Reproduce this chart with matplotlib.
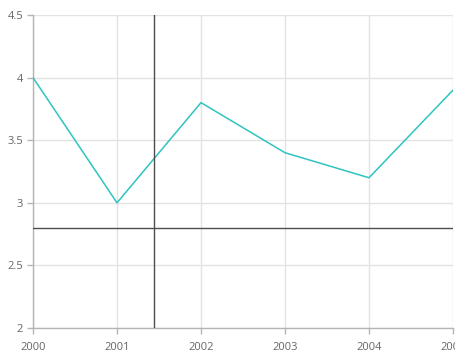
import matplotlib
matplotlib.use("Agg")
import matplotlib.pyplot as plt
from matplotlib.transforms import Bbox

# data
years = [2000, 2001, 2002, 2003, 2004, 2005]
values = [4.0, 3.0, 3.8, 3.4, 3.2, 3.9]
cross_x = 2001.44
cross_y = 2.8

plt.rcParams['font.family'] = ['Open Sans', 'DejaVu Sans']

fig = plt.figure(figsize=(4.74, 3.62), dpi=100)
ax = fig.add_axes([33 / 474, 1 - 328 / 362, 420 / 474, 313 / 362])

ax.plot(years, values, color='#2ec4c0', linewidth=1.1, zorder=3)

# crosshair
ax.axvline(cross_x, color='#4d4d4d', linewidth=1, zorder=4)
ax.axhline(cross_y, color='#4d4d4d', linewidth=1, zorder=4)

ax.set_xlim(2000, 2005)
ax.set_ylim(2, 4.5)
ax.set_xticks(years)
ax.set_yticks([2, 2.5, 3, 3.5, 4, 4.5])
ax.set_yticklabels(['2', '2.5', '3', '3.5', '4', '4.5'])

ax.grid(True, color='#e3e3e3', linewidth=1)
ax.set_axisbelow(True)

for s in ['top', 'right']:
    ax.spines[s].set_visible(False)
for s in ['left', 'bottom']:
    ax.spines[s].set_color('#b5b5b5')
    ax.spines[s].set_linewidth(1)

ax.tick_params(axis='both', colors='#b5b5b5', labelcolor='#666666',
               labelsize=8, length=4, width=1)
ax.tick_params(axis='x', pad=6)
ax.tick_params(axis='y', pad=3)

# the chart container cuts off the last year label at its right edge
clip = Bbox.from_extents(0, 0, 455, 362)
for lab in ax.get_xticklabels():
    lab.set_clip_on(True)
    lab.set_clip_box(clip)

fig.savefig('out.png', dpi=100)
